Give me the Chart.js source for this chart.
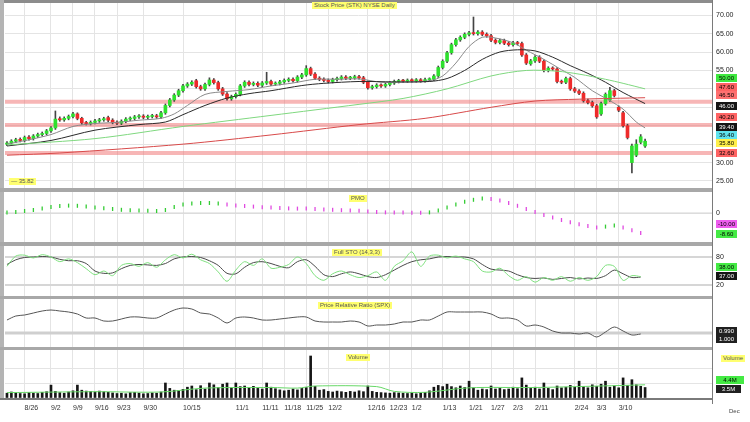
<!DOCTYPE html>
<html>
<head>
<meta charset="utf-8">
<script src="https://cdn.jsdelivr.net/npm/chart.js@4.4.1/dist/chart.umd.min.js"></script>
<style>
  html, body { margin: 0; padding: 0; background: #fff; }
  #wrap { position: relative; width: 750px; height: 422px; overflow: hidden; font-family: "Liberation Sans", Arial, sans-serif; }
  #wrap canvas { position: absolute; left: 0; }
  .sep { position: absolute; background: #a8a8a8; z-index: 2; }
  .lbl { position: absolute; z-index: 3; background: #ffff70; color: #555; font-size: 6px; line-height: 7px; padding: 0 2px; white-space: nowrap; }
  .tag { position: absolute; z-index: 3; left: 716px; width: 21px; font-size: 6px; line-height: 8px; height: 8px; text-align: center; white-space: nowrap; overflow: hidden; }
</style>
</head>
<body>
<div id="wrap">
  <canvas id="p1" width="750" height="185" style="top:3px"></canvas>
  <canvas id="p2" width="750" height="50" style="top:192px"></canvas>
  <canvas id="p3" width="750" height="50" style="top:246px"></canvas>
  <canvas id="p4" width="750" height="48" style="top:299px"></canvas>
  <canvas id="p5" width="750" height="68" style="top:350px"></canvas>

  <div class="sep" style="left:0;top:0;width:713px;height:3px;background:#8c8c8c"></div>
  <div class="sep" style="left:0;top:0;width:4px;height:400px;background:#b4b4b4"></div>
  <div class="sep" style="left:0;top:188px;width:712px;height:4px"></div>
  <div class="sep" style="left:0;top:242px;width:712px;height:4px"></div>
  <div class="sep" style="left:0;top:296px;width:712px;height:3px"></div>
  <div class="sep" style="left:0;top:347px;width:712px;height:3px"></div>
  <div class="sep" style="left:0;top:398px;width:713px;height:2px;background:#7a7a7a"></div>
  <div class="sep" style="left:712px;top:0;width:1px;height:404px;background:#7a7a7a"></div>

  <div class="lbl" style="left:312px;top:2px">Stock Price (STK) NYSE Daily</div>
  <div class="lbl" style="left:9px;top:178px">&#8212; 35.82</div>
  <div class="lbl" style="left:349px;top:195px">PMO</div>
  <div class="lbl" style="left:332px;top:249px">Full STO (14,3,3)</div>
  <div class="lbl" style="left:318px;top:302px">Price Relative Ratio (SPX)</div>
  <div class="lbl" style="left:346px;top:354px">Volume</div>
  <div class="lbl" style="left:721px;top:355px">Volume</div>
  <div style="position:absolute;left:729px;top:408px;font-size:6px;color:#444">Dec</div>
</div>

<script>
const FONT = "Liberation Sans";
const UP = "#2ee02e";
const DOWN = "#ee2a2a";

// x axis: trading-day index and its date labels
const tickDays = [4, 10, 15, 20, 25, 31, 40, 52, 58, 63, 68, 73, 82, 87, 92, 99, 105, 110, 115, 120, 129, 134, 139];
const tickLabels = ["8/26", "9/2", "9/9", "9/16", "9/23", "9/30", "10/15", "11/1", "11/11", "11/18", "11/25", "12/2", "12/16", "12/23", "1/2", "1/13", "1/21", "1/27", "2/3", "2/11", "2/24", "3/3", "3/10"];

// price candles
const opens = [
  35.0, 35.3, 35.8, 36.3, 36.0, 36.9, 36.5, 37.2, 37.6, 37.9,
  38.6, 39.4, 41.9, 41.6, 42.0, 42.5, 43.2, 42.0, 40.8, 40.6,
  40.9, 41.3, 41.6, 42.2, 41.5, 40.9, 40.7, 41.2, 41.8, 42.0,
  42.4, 42.6, 42.3, 42.5, 42.7, 42.4, 43.5, 45.5, 47.0, 48.3,
  49.5, 50.8, 51.3, 52.2, 50.6, 50.0, 51.2, 52.4, 51.7, 50.0,
  48.6, 47.3, 47.9, 48.5, 50.8, 51.8, 51.2, 51.5, 51.0, 51.6,
  52.0, 51.3, 51.5, 51.9, 52.3, 52.6, 52.2, 53.2, 53.8, 55.5,
  54.0, 52.9, 52.6, 52.3, 52.0, 52.5, 52.8, 53.2, 52.9, 53.0,
  53.3, 53.0, 51.8, 50.3, 50.6, 51.0, 50.8, 51.2, 51.6, 52.0,
  52.2, 52.1, 52.3, 52.2, 52.4, 52.2, 52.5, 52.6, 53.5, 55.8,
  57.5, 59.8, 62.0, 63.3, 64.0, 64.8, 65.2, 65.0, 65.4, 64.8,
  64.4, 63.2, 62.6, 63.1, 62.4, 62.0, 62.5, 62.3, 59.2, 56.8,
  57.6, 58.6, 57.5, 55.0, 55.6, 55.4, 52.0, 51.8, 52.8, 50.0,
  49.4, 48.8, 46.8, 46.3, 45.4, 43.2, 46.0, 47.0, 49.5, 45.0,
  43.5, 40.0, 30.0, 32.0, 35.5, 34.5
];
const closes = [
  35.3, 35.8, 36.2, 36.0, 36.8, 36.5, 37.2, 37.6, 37.9, 38.6,
  39.4, 41.8, 41.6, 42.0, 42.5, 43.2, 42.0, 40.8, 40.6, 40.9,
  41.3, 41.6, 41.9, 41.5, 40.9, 40.7, 41.2, 41.8, 42.0, 42.4,
  42.6, 42.3, 42.5, 42.7, 42.4, 43.5, 45.5, 47.0, 48.3, 49.5,
  50.8, 51.3, 51.8, 50.6, 50.0, 51.2, 52.4, 51.7, 50.0, 48.6,
  47.3, 47.9, 48.5, 50.8, 51.8, 51.2, 51.5, 51.0, 51.6, 52.0,
  51.3, 51.5, 51.9, 52.3, 52.6, 52.2, 53.2, 53.8, 55.5, 54.0,
  52.9, 52.6, 52.3, 52.0, 52.5, 52.8, 53.2, 52.9, 53.0, 53.3,
  53.0, 51.8, 50.3, 50.6, 51.0, 50.8, 51.2, 51.6, 52.0, 52.2,
  52.1, 52.3, 52.2, 52.4, 52.2, 52.5, 52.6, 53.5, 55.8, 57.5,
  59.8, 62.0, 63.3, 64.0, 64.8, 65.2, 65.0, 65.4, 64.8, 64.4,
  63.2, 62.6, 63.1, 62.4, 62.0, 62.5, 62.3, 59.2, 57.0, 57.6,
  58.6, 57.5, 55.0, 55.6, 55.4, 52.0, 51.8, 52.8, 50.0, 49.4,
  48.8, 46.8, 46.3, 45.4, 42.4, 46.0, 48.5, 49.5, 48.2, 44.2,
  40.0, 36.8, 34.5, 35.0, 37.0, 35.8
];
const highs = [
  35.7, 36.2, 36.6, 36.7, 37.2, 37.3, 37.6, 38.0, 38.3, 39.0,
  39.8, 44.0, 42.4, 42.4, 42.9, 43.6, 43.5, 42.3, 41.2, 41.3,
  41.7, 42.0, 42.3, 42.6, 41.9, 41.3, 41.6, 42.2, 42.4, 42.8,
  43.0, 43.0, 42.9, 43.1, 43.1, 43.9, 45.9, 47.4, 48.7, 49.9,
  51.2, 51.7, 52.2, 52.6, 51.0, 51.6, 53.0, 52.8, 52.1, 50.4,
  49.0, 48.3, 48.9, 51.2, 52.2, 52.2, 51.9, 51.9, 52.0, 54.5,
  52.4, 51.9, 52.3, 52.7, 53.0, 53.0, 53.6, 54.2, 56.3, 55.9,
  54.4, 53.3, 53.0, 52.7, 52.9, 53.2, 53.6, 53.6, 53.4, 53.7,
  53.7, 53.4, 52.2, 51.0, 51.4, 51.4, 51.6, 52.0, 52.4, 52.6,
  52.6, 52.7, 52.7, 52.8, 52.8, 52.9, 53.0, 53.9, 56.2, 57.9,
  60.2, 62.4, 63.7, 64.4, 65.2, 65.6, 69.5, 65.8, 65.8, 65.2,
  64.8, 63.6, 63.5, 63.5, 62.8, 62.9, 62.9, 62.7, 59.6, 58.0,
  59.0, 59.0, 57.9, 56.0, 56.0, 55.8, 52.4, 53.2, 53.2, 50.4,
  49.8, 49.2, 47.2, 46.7, 45.8, 46.4, 48.9, 50.4, 49.9, 45.4,
  43.9, 40.4, 35.0, 36.2, 37.6, 36.4
];
const lows = [
  34.6, 34.9, 35.4, 35.6, 35.6, 36.1, 36.1, 36.8, 37.2, 37.5,
  38.2, 39.0, 41.2, 41.2, 41.6, 42.1, 41.6, 40.4, 40.2, 40.2,
  40.5, 40.9, 41.2, 41.1, 40.5, 40.3, 40.3, 40.8, 41.4, 41.6,
  42.0, 41.9, 41.9, 42.1, 42.0, 42.0, 43.1, 45.1, 46.6, 47.9,
  49.1, 50.4, 50.9, 50.2, 49.6, 49.6, 50.8, 51.3, 49.6, 48.2,
  46.9, 46.9, 47.5, 48.1, 50.4, 50.8, 50.8, 50.6, 50.6, 51.2,
  50.9, 50.9, 51.1, 51.5, 51.9, 51.8, 51.8, 52.8, 53.4, 53.6,
  52.5, 52.2, 51.9, 51.6, 51.6, 52.1, 52.4, 52.5, 52.5, 52.6,
  52.6, 51.4, 49.9, 49.9, 50.2, 50.4, 50.4, 50.8, 51.2, 51.6,
  51.7, 51.7, 51.8, 51.8, 51.8, 51.8, 52.1, 52.2, 53.1, 55.4,
  57.1, 59.4, 61.6, 62.9, 63.6, 64.4, 64.6, 64.6, 64.4, 64.0,
  62.8, 62.2, 62.2, 62.0, 61.6, 61.6, 61.9, 58.8, 56.6, 56.4,
  57.2, 57.1, 54.6, 54.6, 55.0, 51.6, 51.4, 51.4, 49.6, 49.0,
  48.4, 46.4, 45.9, 45.0, 42.0, 42.8, 45.6, 46.6, 47.8, 43.8,
  39.6, 36.4, 27.2, 31.6, 35.1, 34.1
];

// price overlays (day index / value)
const fastMaDays = [0, 5, 10, 15, 20, 25, 30, 35, 38, 41, 45, 50, 55, 60, 65, 70, 75, 80, 85, 90, 96, 99, 102, 105, 108, 111, 115, 118, 122, 126, 129, 133, 137, 140, 143, 145];
const fastMa = [35.0, 36.2, 37.6, 39.8, 40.6, 40.9, 41.5, 42.0, 43.2, 45.5, 48.5, 49.3, 49.8, 50.8, 51.6, 52.6, 52.6, 52.7, 51.8, 51.8, 52.2, 53.5, 57.0, 61.5, 64.0, 63.8, 62.5, 60.5, 58.0, 55.2, 53.1, 49.5, 46.8, 44.5, 41.0, 39.4];
const slowMaDays = [0, 10, 20, 30, 36, 40, 45, 50, 55, 60, 67, 72, 80, 88, 96, 100, 104, 108, 112, 116, 120, 124, 128, 132, 136, 140, 145];
const slowMa = [34.5, 36.0, 38.8, 40.3, 41.0, 43.0, 45.5, 47.5, 48.7, 49.5, 50.9, 51.5, 52.0, 51.9, 52.0, 52.8, 55.0, 58.0, 60.0, 60.6, 60.3, 58.6, 56.3, 54.2, 51.8, 49.0, 46.0];
const greenMaDays = [0, 20, 40, 60, 80, 90, 100, 110, 118, 125, 130, 136, 140, 145];
const greenMa = [34.8, 36.5, 39.8, 42.8, 45.8, 47.4, 50.0, 53.5, 55.0, 54.8, 54.0, 52.6, 51.5, 50.0];
const redMaDays = [0, 12, 40, 60, 80, 95, 110, 120, 130, 145];
const redMa = [32.0, 32.6, 35.0, 37.5, 40.3, 42.0, 45.0, 46.7, 47.2, 47.6];
const levels = [46.5, 40.2, 32.6];
const priceTicks = [25, 30, 35, 40, 45, 50, 55, 60, 65, 70];
const priceTickShown = [25, 30, 55, 60, 65, 70];

// lower panels, one value every 2 days
const oscStep = 2;
const pmo = [
  0.2, 0.5, 1.0, 1.5, 2.2, 3.0, 3.5, 3.7, 3.6, 3.3,
  2.8, 2.4, 2.0, 1.6, 1.4, 1.2, 1.1, 1.0, 1.5, 3.0,
  4.2, 4.8, 5.0, 5.0, 4.7, 4.2, 3.8, 3.5, 3.2, 2.9,
  2.7, 2.5, 2.3, 2.2, 2.2, 2.0, 1.8, 1.6, 1.4, 1.3,
  1.1, 0.8, 0.5, 0.3, 0.2, 0.2, 0.1, 0.1, 0.3, 1.2,
  2.8, 4.3, 5.6, 6.6, 7.2, 7.0, 6.2, 5.0, 3.6, 2.0,
  0.5, -1.0, -2.3, -3.5, -4.6, -5.6, -6.5, -7.3, -6.8, -6.2,
  -7.2, -8.6, -10.0
];
const pmoUpRanges = [[0, 48], [96, 109], [135, 139]];
const stochSlow = [
  64, 74, 79, 80, 81, 80, 75, 72, 72, 66,
  50, 45, 46, 55, 62, 64, 63, 62, 66, 76,
  80, 81, 79, 72, 62, 45, 44, 58, 68, 70,
  66, 60, 57, 70, 74, 60, 42, 38, 44, 48,
  44, 38, 36, 42, 52, 62, 70, 74, 76, 80,
  81, 80, 80, 76, 64, 54, 52, 50, 42, 36,
  34, 35, 32, 34, 36, 33, 35, 34, 40, 52,
  44, 36, 37
];
const stochFast = [
  60, 82, 84, 78, 85, 80, 70, 76, 68, 55,
  42, 50, 40, 62, 66, 60, 68, 58, 74, 85,
  78, 86, 74, 66, 48, 28, 52, 70, 62, 76,
  56, 58, 64, 80, 66, 40, 30, 44, 50, 42,
  36, 40, 48, 30, 60, 72, 91, 60, 82, 84,
  78, 82, 76, 70, 50, 48, 56, 40, 30, 38,
  26, 36, 30, 38, 28, 36, 30, 38, 62, 60,
  30, 40, 38
];
const relative = [
  1.13, 1.17, 1.18, 1.20, 1.22, 1.23, 1.22, 1.21, 1.19, 1.15,
  1.15, 1.12, 1.12, 1.14, 1.16, 1.16, 1.15, 1.15, 1.19, 1.23,
  1.25, 1.24, 1.20, 1.19, 1.15, 1.10, 1.15, 1.16, 1.15, 1.13,
  1.13, 1.14, 1.15, 1.16, 1.16, 1.12, 1.11, 1.11, 1.11, 1.12,
  1.11, 1.07, 1.08, 1.08, 1.09, 1.11, 1.11, 1.13, 1.13, 1.17,
  1.21, 1.21, 1.21, 1.21, 1.21, 1.19, 1.15, 1.15, 1.13, 1.07,
  1.08, 1.06, 1.02, 1.00, 1.00, 0.99, 1.00, 0.96, 1.01, 1.06,
  1.02, 0.98, 0.99
];

// volume, millions
const volume = [
  1.6, 2.0, 1.7, 1.5, 1.4, 1.8, 1.6, 1.5, 1.9, 2.1,
  4.3, 2.2, 1.8, 1.6, 2.0, 2.4, 4.3, 2.6, 2.3, 2.2,
  2.0, 2.3, 2.1, 1.9, 1.7, 1.5, 1.6, 1.4, 1.8, 1.9,
  1.6, 1.4, 1.5, 1.7, 1.6, 2.0, 5.0, 3.2, 2.6, 2.5,
  2.9, 3.6, 4.0, 2.8, 4.1, 3.0, 5.0, 4.4, 3.5, 4.6,
  5.0, 3.4, 5.0, 3.8, 4.0, 3.3, 3.9, 3.2, 3.0, 5.0,
  3.6, 3.1, 2.7, 2.4, 2.6, 3.0, 2.7, 3.2, 3.5, 14.0,
  3.9, 2.6, 2.8, 2.2, 2.0, 2.3, 2.1, 1.9, 2.2, 2.0,
  2.4, 2.1, 4.0, 2.2, 1.9, 1.8, 1.7, 1.6, 1.8, 1.7,
  1.6, 1.5, 1.7, 1.4, 1.6, 1.9, 2.4, 3.6, 4.2, 3.8,
  4.6, 3.8, 3.4, 4.0, 3.5, 5.6, 3.4, 2.6, 3.0, 2.8,
  4.0, 3.0, 3.2, 2.8, 3.0, 3.6, 3.1, 6.7, 4.3, 3.2,
  3.6, 3.0, 5.0, 3.2, 2.8, 4.0, 3.4, 3.6, 4.2, 3.6,
  5.6, 3.8, 3.4, 4.4, 3.9, 4.6, 5.6, 3.6, 4.0, 3.4,
  6.7, 4.2, 6.1, 4.4, 3.9, 3.5
];
const volMaDays = [0, 20, 35, 45, 60, 66, 70, 84, 88, 95, 105, 120, 135, 145];
const volMa = [1.8, 2.1, 2.0, 3.3, 3.5, 3.3, 4.0, 3.8, 2.2, 1.9, 3.4, 3.5, 4.0, 4.4];

const X_MIN = -0.45;
const X_MAX = 160.2;

function pts(days, vals) {
  return vals.map((v, i) => ({ x: days[i], y: v }));
}
function stepPts(vals) {
  return vals.map((v, i) => ({ x: i * oscStep, y: v }));
}

// keep chart areas exactly where the panels are: no label overflow padding
function noPad(axis) {
  axis.paddingTop = 0;
  axis.paddingBottom = 0;
  axis.paddingLeft = 0;
  axis.paddingRight = 0;
}

function xAxis(showLabels) {
  return {
    type: "linear",
    min: X_MIN,
    max: X_MAX,
    offset: false,
    afterBuildTicks: (axis) => {
      axis.ticks = tickDays.map((d) => ({ value: d }));
    },
    afterFit: (axis) => {
      axis.height = showLabels ? 20 : 0;
      noPad(axis);
    },
    grid: { color: "#e4e4e4", drawTicks: false, offset: false },
    border: { display: false },
    ticks: {
      display: showLabels,
      autoSkip: false,
      maxRotation: 0,
      align: "start",
      padding: 6,
      color: "#333",
      font: { size: 7, family: FONT },
      callback: (v, i) => tickLabels[i],
    },
  };
}

function yAxis(min, max, ticks, fmt, showLabels) {
  return {
    position: "right",
    min: min,
    max: max,
    afterBuildTicks: (axis) => {
      axis.ticks = ticks.map((v) => ({ value: v }));
    },
    afterFit: (axis) => {
      axis.width = 38;
      noPad(axis);
    },
    grid: { color: "#e4e4e4", drawTicks: false },
    border: { display: false },
    ticks: {
      display: showLabels,
      padding: 4,
      color: "#222",
      font: { size: 7, family: FONT },
      callback: fmt,
    },
  };
}

function baseOptions(x, y) {
  return {
    responsive: false,
    animation: false,
    layout: { autoPadding: false, padding: { left: 5, right: 0, top: 0, bottom: 0 } },
    plugins: { legend: { display: false }, tooltip: { enabled: false } },
    scales: { x: x, y: y },
  };
}

function flatLine(value, color, width, order) {
  return {
    type: "line",
    data: [{ x: X_MIN, y: value }, { x: X_MAX, y: value }],
    borderColor: color,
    borderWidth: width,
    pointRadius: 0,
    order: order,
  };
}

function overlay(data, color, width) {
  return {
    type: "line",
    data: data,
    borderColor: color,
    borderWidth: width,
    pointRadius: 0,
    tension: 0.3,
    order: 1,
  };
}

// ---- price panel
const candleColors = closes.map((c, i) => (c >= opens[i] ? UP : DOWN));
const priceSets = [];
levels.forEach((lvl) => priceSets.push(flatLine(lvl, "rgba(240,110,110,0.5)", 4, 10)));
priceSets.push({
  type: "bar",
  data: closes.map((c, i) => ({ x: i, y: [lows[i], highs[i]] })),
  backgroundColor: "#444",
  barThickness: 1,
  grouped: false,
  order: 6,
});
priceSets.push({
  type: "bar",
  data: closes.map((c, i) => ({ x: i, y: [opens[i], c] })),
  backgroundColor: candleColors,
  barThickness: 3,
  minBarLength: 1,
  grouped: false,
  order: 5,
});
priceSets.push(overlay(pts(redMaDays, redMa), "#d84a4a", 1));
priceSets.push(overlay(pts(greenMaDays, greenMa), "#7fd87f", 1));
priceSets.push(overlay(pts(slowMaDays, slowMa), "#2a2a2a", 1));
priceSets.push(overlay(pts(fastMaDays, fastMa), "#8a8a8a", 1));

new Chart(document.getElementById("p1"), {
  type: "bar",
  data: { datasets: priceSets },
  options: baseOptions(
    xAxis(false),
    yAxis(23.1, 73.3, priceTicks, (v) => (priceTickShown.includes(v) ? v.toFixed(2) : ""), true)
  ),
});

// ---- PMO panel
const pmoColors = pmo.map((v, i) => {
  const d = i * oscStep;
  const up = pmoUpRanges.some((r) => d >= r[0] && d <= r[1]);
  return up ? "#34cc34" : "#e04ae0";
});
new Chart(document.getElementById("p2"), {
  type: "line",
  data: {
    datasets: [
      flatLine(0, "#d4d4d4", 1, 10),
      {
        data: stepPts(pmo),
        showLine: false,
        pointStyle: "line",
        rotation: 90,
        pointRadius: 2,
        pointBorderWidth: 1.3,
        pointBorderColor: pmoColors,
        pointBackgroundColor: pmoColors,
        order: 1,
      },
    ],
  },
  options: baseOptions(xAxis(false), yAxis(-14.5, 10.5, [0], (v) => "0", true)),
});

// ---- stochastics panel
new Chart(document.getElementById("p3"), {
  type: "line",
  data: {
    datasets: [
      flatLine(80, "#d6d6d6", 2, 10),
      flatLine(20, "#d6d6d6", 2, 10),
      overlay(stepPts(stochFast), "#7ee07e", 1),
      overlay(stepPts(stochSlow), "#4a4a4a", 1),
    ],
  },
  options: baseOptions(xAxis(false), yAxis(-3.6, 103.6, [20, 80], (v) => String(v), true)),
});

// ---- price relative panel
new Chart(document.getElementById("p4"), {
  type: "line",
  data: {
    datasets: [
      flatLine(1.0, "#cfcfcf", 3, 10),
      overlay(stepPts(relative), "#555", 1),
    ],
  },
  options: baseOptions(xAxis(false), yAxis(0.86, 1.34, [1.0], (v) => "1", true)),
});

// ---- volume panel
new Chart(document.getElementById("p5"), {
  type: "bar",
  data: {
    datasets: [
      {
        type: "bar",
        data: volume.map((v, i) => ({ x: i, y: v })),
        backgroundColor: "#161616",
        barThickness: 2,
        grouped: false,
        order: 5,
      },
      overlay(pts(volMaDays, volMa), "#66d866", 1),
    ],
  },
  options: baseOptions(xAxis(true), yAxis(0, 16, [0, 5, 10], (v) => (v === 0 ? "0" : v + "M"), false)),
});

// ---- value tags on the right axis
const last = (arr) => arr[arr.length - 1];
const tags = [
  { top: 74, bg: "#3ee83e", fg: "#000", text: last(greenMa).toFixed(2) },
  { top: 83, bg: "#ff6464", fg: "#000", text: last(redMa).toFixed(2) },
  { top: 91, bg: "#ff7070", fg: "#000", text: levels[0].toFixed(2) },
  { top: 102, bg: "#151515", fg: "#fff", text: last(slowMa).toFixed(2) },
  { top: 113, bg: "#ff6464", fg: "#000", text: levels[1].toFixed(2) },
  { top: 123, bg: "#151515", fg: "#fff", text: last(fastMa).toFixed(2) },
  { top: 131, bg: "#5fe3ee", fg: "#000", text: last(highs).toFixed(2) },
  { top: 139, bg: "#fff04a", fg: "#000", text: last(closes).toFixed(2) },
  { top: 149, bg: "#ff6464", fg: "#000", text: levels[2].toFixed(2) },
  { top: 220, bg: "#ee5cee", fg: "#000", text: last(pmo).toFixed(2) },
  { top: 230, bg: "#44ea44", fg: "#000", text: (last(pmo) + 1.4).toFixed(2) },
  { top: 263, bg: "#44ea44", fg: "#000", text: last(stochFast).toFixed(2) },
  { top: 272, bg: "#151515", fg: "#fff", text: last(stochSlow).toFixed(2) },
  { top: 327, bg: "#202020", fg: "#fff", text: last(relative).toFixed(3) },
  { top: 335, bg: "#202020", fg: "#fff", text: "1.000" },
  { top: 376, bg: "#44ea44", fg: "#000", text: last(volMa).toFixed(1) + "M", width: 28 },
  { top: 385, bg: "#202020", fg: "#fff", text: last(volume).toFixed(1) + "M", width: 25 },
];
const wrap = document.getElementById("wrap");
tags.forEach((t) => {
  const div = document.createElement("div");
  div.className = "tag";
  div.style.top = t.top + "px";
  div.style.background = t.bg;
  div.style.color = t.fg;
  if (t.width) div.style.width = t.width + "px";
  div.textContent = t.text;
  wrap.appendChild(div);
});
</script>
</body>
</html>
